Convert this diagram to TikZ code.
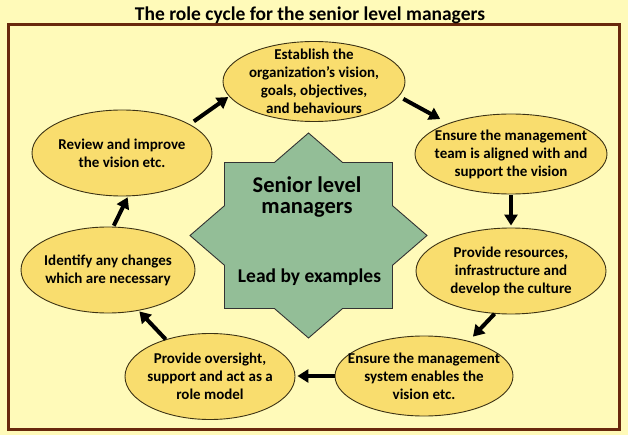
\documentclass[tikz,border=0pt]{standalone}
\usepackage{fontspec}
\setmainfont{Carlito}
\usetikzlibrary{shapes.geometric,arrows.meta}
\definecolor{bgyel}{RGB}{255,250,185}
\definecolor{framebr}{RGB}{105,40,12}
\definecolor{ellfill}{RGB}{249,221,110}
\definecolor{ellline}{RGB}{60,50,20}
\definecolor{starfill}{RGB}{147,190,151}
\tikzset{
  ell/.style={ellipse, draw=ellline, line width=0.9pt, fill=ellfill, inner sep=0pt},
  txt/.style={align=center, font=\fontsize{15}{18}\selectfont\bfseries, inner sep=0pt},
  startxt/.style={align=center, inner sep=0pt},
  arr/.style={line width=4pt, -{Triangle[length=11pt,width=13pt]}},
}
\begin{document}
\begin{tikzpicture}[x=1pt,y=-1pt]
\useasboundingbox (0,0) rectangle (628,435);
\fill[bgyel] (0,0) rectangle (628,435);
\draw[framebr, line width=3pt] (8,25) rectangle (619.5,429);
\node[anchor=base, font=\fontsize{19.5}{22}\selectfont\bfseries, inner sep=0pt] (title) at (310,21) {The role cycle for the senior level managers};
% star
\draw[fill=starfill, draw=black!80, line width=0.9pt]
  (308.5,133) -- (342.6,162.5) -- (392.5,162.5) -- (392.5,205.7) -- (427,235.5)
  -- (392.5,265.3) -- (392.5,308.5) -- (342.6,308.5) -- (308.5,338)
  -- (274.4,308.5) -- (224.5,308.5) -- (224.5,265.3) -- (190,235.5)
  -- (224.5,205.7) -- (224.5,162.5) -- (274.4,162.5) -- cycle;
\node[startxt, anchor=base, font=\fontsize{22.5}{21}\selectfont\bfseries] (s1) at (307,214) {Senior level\\managers};
\node[startxt, anchor=base, font=\fontsize{19.5}{21}\selectfont\bfseries] (s2) at (309.5,282) {Lead by examples};
% ellipses
\node[ell, minimum width=182pt, minimum height=80pt] (e1) at (314,81.5) {};
\node[ell, minimum width=192pt, minimum height=80pt] (e2) at (511,154) {};
\node[ell, minimum width=190pt, minimum height=86pt] (e3) at (511,271) {};
\node[ell, minimum width=178pt, minimum height=80pt] (e4) at (424,376) {};
\node[ell, minimum width=170pt, minimum height=86pt] (e5) at (210,376.5) {};
\node[ell, minimum width=174pt, minimum height=86pt] (e6) at (108,270) {};
\node[ell, minimum width=180pt, minimum height=86pt] (e7) at (122,153) {};
\node[txt] (t1) at (e1) {Establish the\\organization's vision,\\goals, objectives,\\and behaviours};
\node[txt] (t2) at (e2) {Ensure the management\\team is aligned with and\\support the vision};
\node[txt] (t3) at (e3) {Provide resources,\\infrastructure and\\develop the culture};
\node[txt] (t4) at (e4) {Ensure the management\\system enables the\\vision etc.};
\node[txt] (t5) at (e5) {Provide oversight,\\support and act as a\\role model};
\node[txt] (t6) at (e6) {Identify any changes\\which are necessary};
\node[txt] (t7) at (e7) {Review and improve\\the vision etc.};
% arrows
\draw[arr, shorten <=5pt, shorten >=9pt] (e1.-10) -- (e2.154);
\draw[arr, shorten <=1pt, shorten >=2pt] (e2.south) -- (e3.north);
\draw[arr, shorten <=0pt, shorten >=6pt] (e3.249) -- (e4.38);
\draw[arr, shorten <=0pt, shorten >=2pt] (e4.west) -- (e4.west -| e5.east);
\draw[arr, shorten <=0pt, shorten >=1pt] (e5.140) -- (e6.-53);
\draw[arr, shorten <=1pt, shorten >=1pt] (e6.83) -- (e7.-82);
\draw[arr, shorten <=5pt, shorten >=1pt] (e7.23) -- (e1.190.5);
\end{tikzpicture}
\end{document}
